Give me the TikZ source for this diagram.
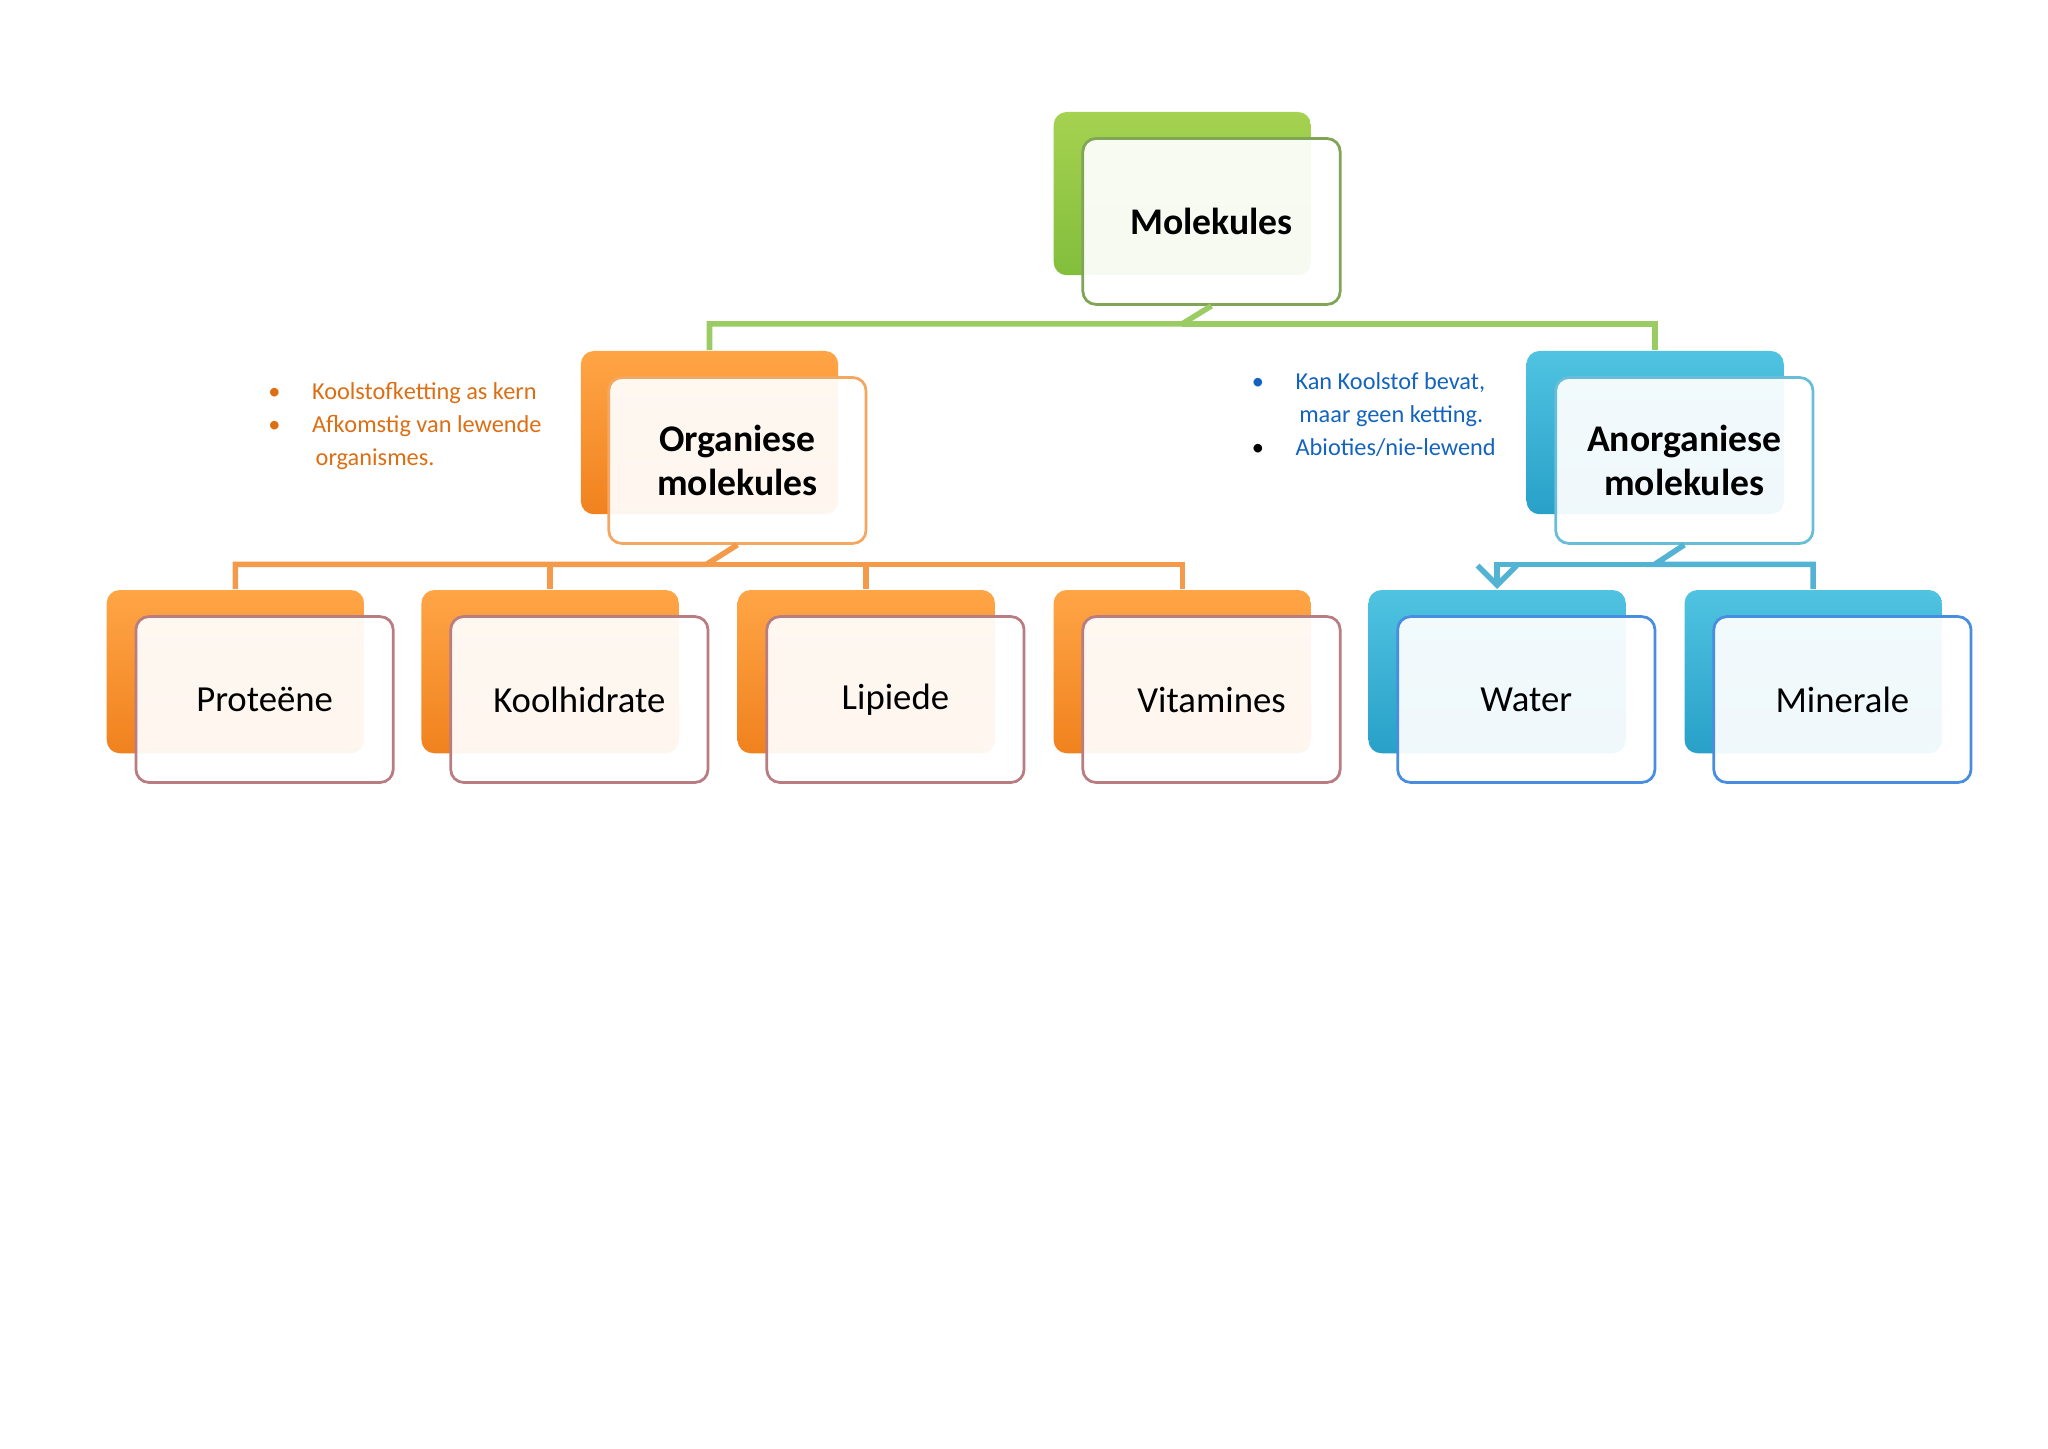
\documentclass[tikz,border=0pt]{standalone}
\usepackage{fontspec}
\setmainfont{Carlito}
\usetikzlibrary{arrows.meta}
\definecolor{gr}{RGB}{130,190,60}
\definecolor{grl}{RGB}{165,210,80}
\definecolor{orr}{RGB}{240,130,30}
\definecolor{orl}{RGB}{255,165,70}
\definecolor{bl}{RGB}{40,160,200}
\definecolor{bll}{RGB}{80,195,225}
\definecolor{otxt}{RGB}{220,110,20}
\definecolor{btxt}{RGB}{20,100,190}
\tikzset{
 back/.style={rounded corners=0.1cm,minimum width=1.97cm,minimum height=1.25cm,anchor=north west},
 front/.style={rounded corners=0.1cm,minimum width=1.97cm,minimum height=1.27cm,anchor=north west,draw,line width=0.6pt,fill=white,fill opacity=0.93,text opacity=1,font=\fontsize{8}{9}\selectfont,align=center},
 bold/.style={font=\fontsize{8.2}{9.6}\selectfont\bfseries},
 cg/.style={draw=gr!80,line width=1.2pt},
 co/.style={draw=orr!80,line width=1.2pt},
 cb/.style={draw=bl!80,line width=1.2pt},
 note/.style={anchor=north west,align=left,font=\fontsize{5.3}{7.2}\selectfont}
}
\begin{document}
\begin{tikzpicture}[x=1cm,y=1cm]
\useasboundingbox (0,0) rectangle (15.68,-11.087);
% connectors (behind)
\coordinate (gm) at (9.05,-2.48);
\coordinate (om) at (5.41,-4.32);
\coordinate (bm) at (12.67,-4.32);
% Molekules
\node[back,top color=grl,bottom color=gr] (mb) at (8.06,-0.85) {};
\node[front,bold,draw=gr!60!gray] (m) at (8.28,-1.05) {Molekules};
% Organiese
\node[back,top color=orl,bottom color=orr] (ob) at (4.44,-2.68) {};
\node[front,bold,draw=orr!70] (o) at (4.65,-2.88) {Organiese\\molekules};
% Anorganiese
\node[back,top color=bll,bottom color=bl] (ab) at (11.68,-2.68) {};
\node[front,bold,draw=bl!70] (a) at (11.90,-2.88) {Anorganiese\\molekules};
% bottom
\foreach \n/\x/\t/\c/\cl in {p/0.81/Proteëne/orr/orl,k/3.22/Koolhidrate/orr/orl,l/5.64/Lipiede/orr/orl,v/8.06/Vitamines/orr/orl,w/10.47/Water/bl/bll,n/12.89/Minerale/bl/bll}{
 \node[back,top color=\cl,bottom color=\c] (\n b) at (\x,-4.51) {};
 \node[front,draw=\c!70!blue!80] (\n) at (\x+0.22,-4.71) {\t};
}
% connectors
\draw[cg] (m.south) -- (gm) -| (ob.north);
\draw[cg] (gm) -| (ab.north);
\draw[co] (o.south) -- (om) -| (pb.north);
\draw[co] (om) -| (vb.north);
\draw[co] (kb.north) -- (kb.north|-om);
\draw[co] (lb.north) -- (lb.north|-om);
\draw[cb] (a.south) -- (bm) -| (nb.north);
\draw[cb,-{Straight Barb[length=1.5mm]}] (bm) -| (wb.north);
% notes
\node[note,text=otxt] (n1) at (1.93,-2.80) {\textbullet\hspace{1.3em}Koolstofketting as kern\\\textbullet\hspace{1.3em}Afkomstig van lewende\\\hspace{1.95em}organismes.};
\node[note,text=btxt] (n2) at (9.46,-2.73) {{\color{btxt}\textbullet}\hspace{1.3em}Kan Koolstof bevat,\\\hspace{1.95em}maar geen ketting.\\{\color{black}\textbullet}\hspace{1.3em}Abioties/nie-lewend};
\end{tikzpicture}
\end{document}
